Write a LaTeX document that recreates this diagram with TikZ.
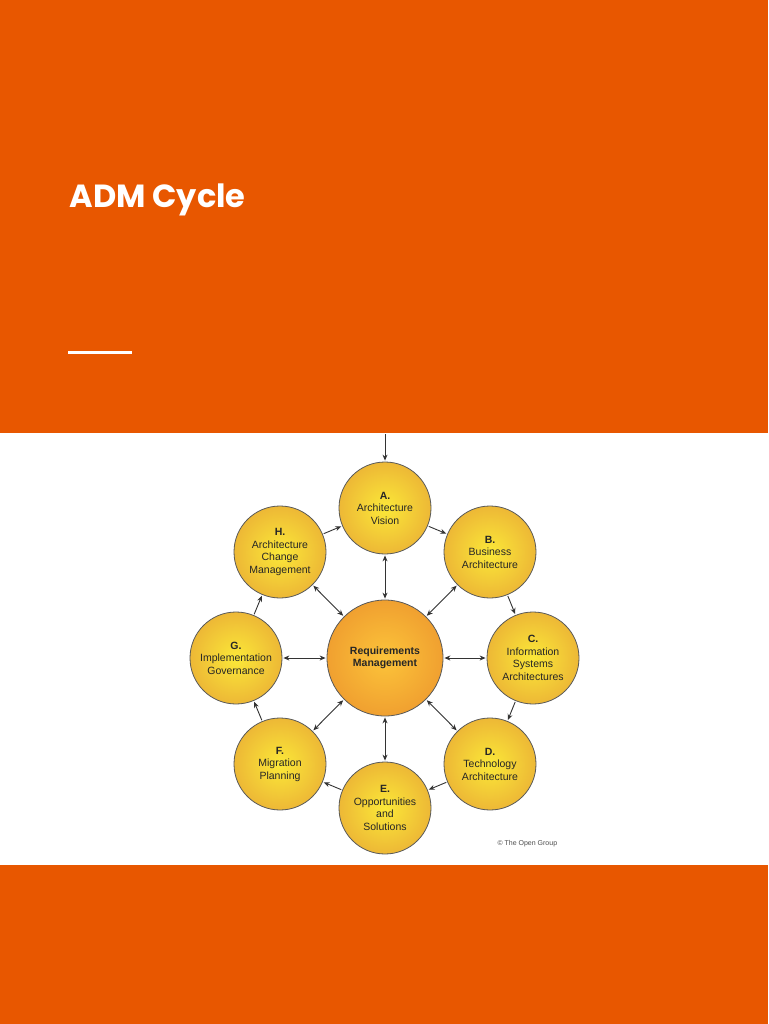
\documentclass[tikz,border=0pt]{standalone}
\usepackage{fontspec}
\setmainfont{Liberation Sans}
\newfontfamily\titlefont{Poppins}
\usetikzlibrary{arrows.meta}
\definecolor{orng}{HTML}{E85700}
\definecolor{yin}{HTML}{FBE838}
\definecolor{yout}{HTML}{EDB836}
\definecolor{cin}{HTML}{FCC43A}
\definecolor{cout}{HTML}{F0A030}
\begin{document}
\begin{tikzpicture}[x=1pt,y=-1pt,
  phase/.style={circle,draw=black!65,line width=0.8pt,minimum size=92pt,inner sep=0pt,
    inner color=yin,outer color=yout,align=center,font=\fontsize{10.5}{12.5}\selectfont,text=black!85},
  hub/.style={phase,minimum size=116pt,inner color=cin,outer color=cout},
  arr/.style={-{Stealth[length=6pt,width=5pt]},line width=0.9pt,black!80,shorten >=1pt,shorten <=1pt},
  darr/.style={arr,{Stealth[length=6pt,width=5pt]}-{Stealth[length=6pt,width=5pt]}}]
\useasboundingbox (0,0) rectangle (768,1024);
\fill[orng] (0,0) rectangle (768,433);
\fill[white] (0,433) rectangle (768,865);
\fill[orng] (0,865) rectangle (768,1024);
\node[anchor=west,text=white,font=\titlefont\bfseries\fontsize{32}{36}\selectfont] (title) at (66,200) {ADM Cycle};
\draw[white,line width=3pt] (68,352) -- (132,352);
\node[hub] (R) at (385,658) {\textbf{Requirements}\\\textbf{Management}};
\node[phase] (A) at (385,508) {\textbf{A.}\\Architecture\\Vision};
\node[phase] (B) at (490,552) {\textbf{B.}\\Business\\Architecture};
\node[phase] (C) at (533,658) {\textbf{C.}\\Information\\Systems\\Architectures};
\node[phase] (D) at (490,764) {\textbf{D.}\\Technology\\Architecture};
\node[phase] (E) at (385,808) {\textbf{E.}\\Opportunities\\and\\Solutions};
\node[phase] (F) at (280,764) {\textbf{F.}\\Migration\\Planning};
\node[phase] (G) at (236,658) {\textbf{G.}\\Implementation\\Governance};
\node[phase] (H) at (280,552) {\textbf{H.}\\Architecture\\Change\\Management};
\coordinate (top) at (385,433);
\draw[arr] (top) -- (A);
\foreach \p in {A,B,C,D,E,F,G,H} \draw[darr] (R) -- (\p);
\draw[arr] (A) -- (B); \draw[arr] (B) -- (C); \draw[arr] (C) -- (D); \draw[arr] (D) -- (E);
\draw[arr] (E) -- (F); \draw[arr] (F) -- (G); \draw[arr] (G) -- (H); \draw[arr] (H) -- (A);
\node[anchor=west,font=\fontsize{7}{8}\selectfont,text=black!70] (copy) at (494,844) {© The Open Group};
\end{tikzpicture}
\end{document}
